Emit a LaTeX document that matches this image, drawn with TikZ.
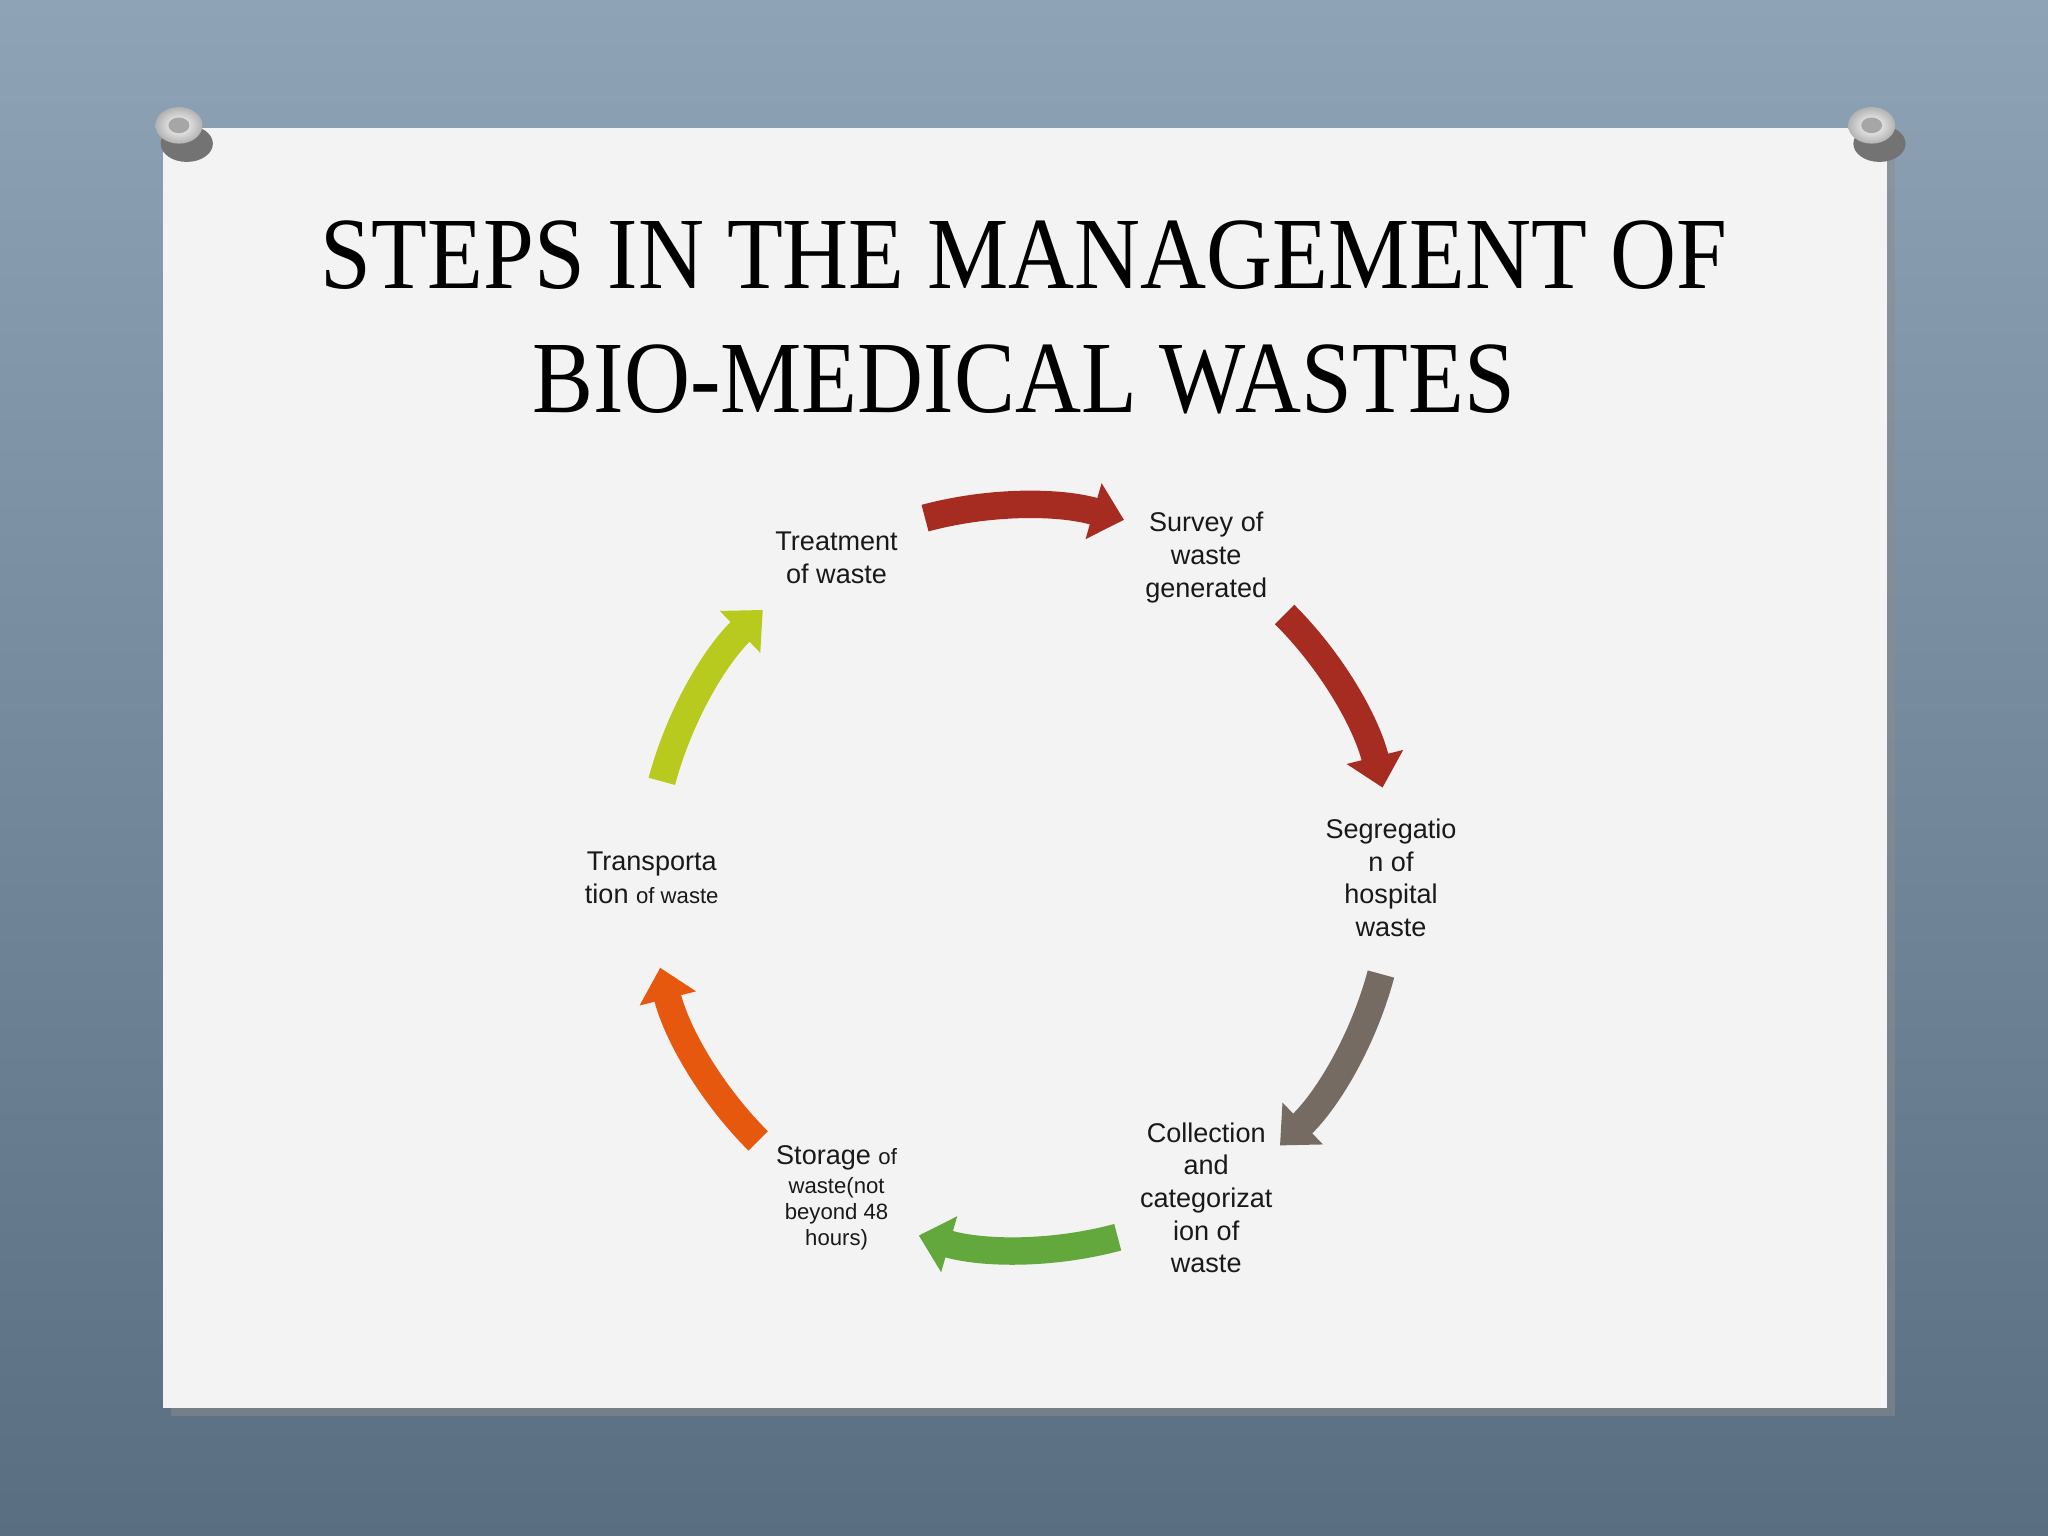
\documentclass[tikz,border=0pt]{standalone}
\usepackage{fontspec}
\setmainfont{Liberation Serif}
\setsansfont{Liberation Sans}
\usetikzlibrary{arrows.meta,shadows,calc}
\definecolor{bgtop}{HTML}{8FA3B6}
\definecolor{bgbot}{HTML}{5A6E82}
\definecolor{paper}{HTML}{F3F3F3}
\definecolor{cred}{HTML}{A62B20}
\definecolor{cgrey}{HTML}{756B62}
\definecolor{cgreen}{HTML}{62A83C}
\definecolor{corange}{HTML}{E5580E}
\definecolor{cyg}{HTML}{B8CA1E}
\tikzset{
  lbl/.style={font=\sffamily\fontsize{7.7}{9.3}\selectfont, align=center, text=black!90},
  cyc/.style={line width=7.8pt, -{Triangle[width=16pt,length=9pt]}},
}
\begin{document}
\begin{tikzpicture}[x=0.013061cm,y=0.013061cm]
\useasboundingbox (0,0) rectangle (1568,1176);
\shade[top color=bgtop, bottom color=bgbot] (0,0) rectangle (1568,1176);
% paper
\fill[black!45,opacity=0.5] (131,92) rectangle (1451,1072);
\fill[paper] (125,98) rectangle (1445,1078);
% pins
\foreach \px in {137,1433}{
  \fill[black!55] (\px+6,1066) ellipse (20 and 14);
  \shade[inner color=white, outer color=gray!60] (\px,1080) ellipse (18 and 14);
  \fill[gray!70] (\px,1080) ellipse (8 and 6);
}
\node[font=\fontsize{26}{31.5}\selectfont, align=center, yscale=1.12] (title) at (784,933)
  {STEPS IN THE MANAGEMENT OF\\BIO-MEDICAL WASTES};
\coordinate (c) at (782,504);
\node[lbl] (t1) at ($(c)+(60:283)$) {Survey of\\waste\\generated};
\node[lbl] (t2) at ($(c)+(0:283)$) {Segregatio\\n of\\hospital\\waste};
\node[lbl] (t3) at ($(c)+(-60:283)$) {Collection\\and\\categorizat\\ion of\\waste};
\node[lbl] (t4) at ($(c)+(-120:283)$) {Storage {\fontsize{6.3}{7.5}\selectfont of}\\[-1pt]{\fontsize{6.3}{7.5}\selectfont waste(not}\\[-2pt]{\fontsize{6.3}{7.5}\selectfont beyond 48}\\[-2pt]{\fontsize{6.3}{7.5}\selectfont hours)}};
\node[lbl] (t5) at ($(c)+(180:283)$) {Transporta\\tion {\fontsize{6.3}{7.5}\selectfont of waste}};
\node[lbl] (t0) at ($(c)+(120:283)$) {Treatment\\of waste};
\draw[cyc,cred]    ($(c)+(105:285)$) arc (105:74:285);
\draw[cyc,cred]    ($(c)+(45:285)$)  arc (45:14:285);
\draw[cyc,cgrey]   ($(c)+(-15:285)$) arc (-15:-46:285);
\draw[cyc,cgreen]  ($(c)+(-75:285)$) arc (-75:-106:285);
\draw[cyc,corange] ($(c)+(-135:285)$) arc (-135:-166:285);
\draw[cyc,cyg]     ($(c)+(165:285)$) arc (165:134:285);
\end{tikzpicture}
\end{document}
